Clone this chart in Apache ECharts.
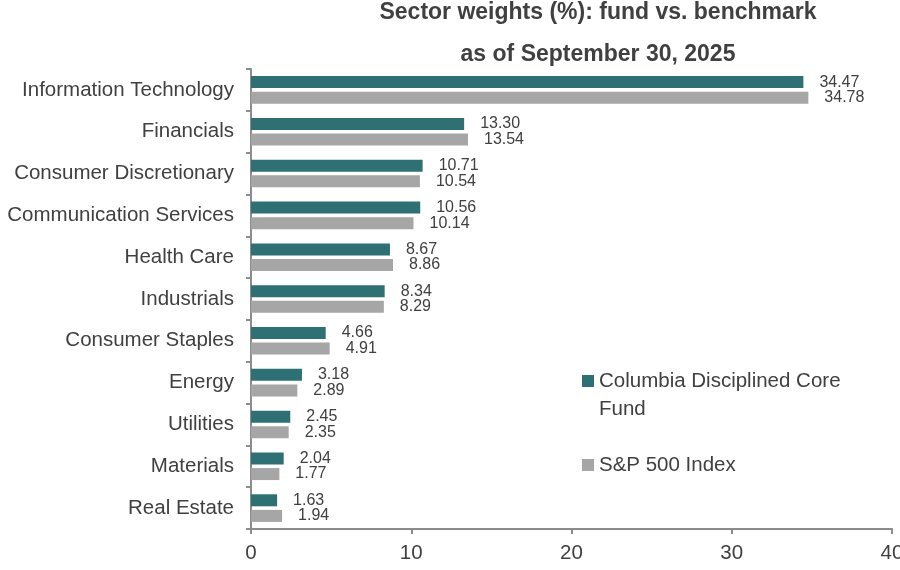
<!DOCTYPE html>
<html>
<head>
<meta charset="utf-8">
<script src="https://cdn.jsdelivr.net/npm/echarts@6/dist/echarts.min.js"></script>
<style>
  html, body { margin: 0; padding: 0; background: #fff; }
  #container { width: 900px; height: 570px; }
</style>
</head>
<body>
<div id="container"></div>
<script>
var dom = document.getElementById("container");
var myChart = echarts.init(dom);

var sectors = ['Information Technology', 'Financials', 'Consumer Discretionary', 'Communication Services',
  'Health Care', 'Industrials', 'Consumer Staples', 'Energy', 'Utilities', 'Materials', 'Real Estate'];
var fundWeights = [34.47, 13.30, 10.71, 10.56, 8.67, 8.34, 4.66, 3.18, 2.45, 2.04, 1.63];
var indexWeights = [34.78, 13.54, 10.54, 10.14, 8.86, 8.29, 4.91, 2.89, 2.35, 1.77, 1.94];
var xTicks = [0, 10, 20, 30, 40];

var fundName = 'Columbia Disciplined Core Fund';
var indexName = 'S&P 500 Index';
var textColor = '#404040';
var axisColor = '#8c8c8c';
var font = 'Liberation Sans, Arial, sans-serif';

var option;

option = {
  animation: false,
  textStyle: { fontFamily: font },
  title: {
    text: 'Sector weights (%): fund vs. benchmark\nas of September 30, 2025',
    left: 598,
    top: -8,
    padding: 0,
    textAlign: 'center',
    textStyle: {
      fontFamily: '"Liberation Sans Narrow", "Arial Narrow", "Liberation Sans", sans-serif',
      fontSize: 23,
      fontWeight: 'bold',
      lineHeight: 42,
      color: textColor
    }
  },
  legend: [{
    data: [fundName],
    orient: 'vertical',
    left: 582,
    top: 339,
    padding: 0,
    icon: 'rect',
    itemWidth: 12,
    itemHeight: 12,
    // blank first line keeps the marker level with the first text line
    formatter: function () { return ' \nColumbia Disciplined Core\nFund'; },
    textStyle: { fontSize: 20.5, lineHeight: 28, color: textColor }
  }, {
    data: [indexName],
    orient: 'vertical',
    left: 582,
    top: 451,
    padding: 0,
    icon: 'rect',
    itemWidth: 12,
    itemHeight: 12,
    textStyle: { fontSize: 20.5, lineHeight: 28, color: textColor }
  }],
  grid: { left: 251, right: 8, top: 69, bottom: 41, outerBoundsMode: 'none' },
  xAxis: {
    type: 'value',
    min: xTicks[0],
    max: xTicks[xTicks.length - 1],
    interval: xTicks[1] - xTicks[0],
    splitLine: { show: false },
    axisLine: { show: true, lineStyle: { color: axisColor, width: 2 } },
    axisTick: { show: true, length: 5, lineStyle: { color: axisColor, width: 2 } },
    axisLabel: { fontSize: 20.5, color: textColor, margin: 14 }
  },
  yAxis: {
    type: 'category',
    inverse: true,
    data: sectors,
    axisLine: { show: true, lineStyle: { color: axisColor, width: 2 } },
    axisTick: { show: true, length: 5, alignWithLabel: false, lineStyle: { color: axisColor, width: 2 } },
    axisLabel: { fontSize: 20.5, color: textColor, margin: 17 }
  },
  series: [{
    name: fundName,
    type: 'bar',
    data: fundWeights,
    barWidth: 12,
    barGap: '30%',
    itemStyle: { color: '#2e7073' },
    label: {
      show: true, position: 'right', distance: 16, fontSize: 16, color: textColor,
      formatter: function (p) { return p.value.toFixed(2); }
    }
  }, {
    name: indexName,
    type: 'bar',
    data: indexWeights,
    barWidth: 12,
    itemStyle: { color: '#a6a6a6' },
    label: {
      show: true, position: 'right', distance: 16, fontSize: 16, color: textColor,
      formatter: function (p) { return p.value.toFixed(2); }
    }
  }]
};

if (option && typeof option === 'object') {
  myChart.setOption(option);
}
</script>
</body>
</html>
